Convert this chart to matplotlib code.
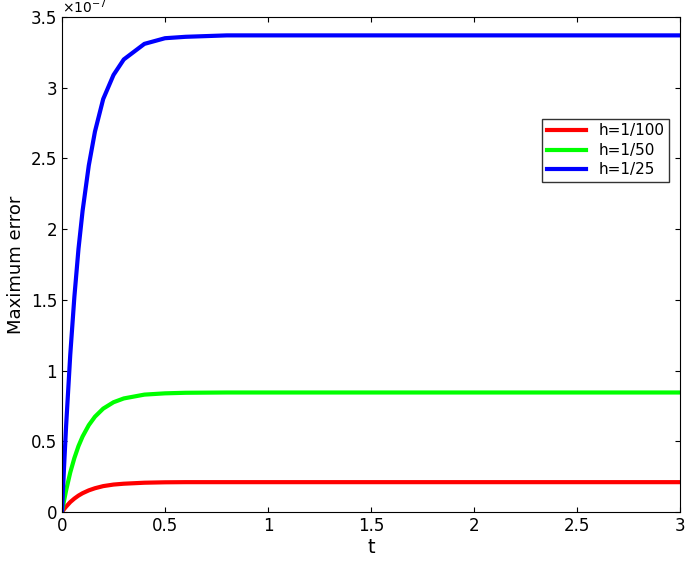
import matplotlib
matplotlib.use("Agg")
import matplotlib.pyplot as plt

t = [0, 0.01, 0.02, 0.04, 0.06, 0.08, 0.1, 0.13, 0.16, 0.2, 0.25, 0.3, 0.4, 0.5, 0.6, 0.8, 1.0, 3.0]
blue = [0, 0.32, 0.61, 1.11, 1.52, 1.86, 2.13, 2.45, 2.69, 2.92, 3.09, 3.20, 3.31, 3.35, 3.36, 3.37, 3.37, 3.37]
green = [0, 0.080, 0.153, 0.279, 0.381, 0.466, 0.534, 0.614, 0.674, 0.731, 0.776, 0.803, 0.830, 0.839, 0.843, 0.845, 0.845, 0.845]
red = [0, 0.020, 0.038, 0.070, 0.095, 0.116, 0.133, 0.153, 0.168, 0.183, 0.194, 0.200, 0.207, 0.210, 0.211, 0.211, 0.211, 0.211]
labels = ["h=1/100", "h=1/50", "h=1/25"]
xticklabels = ["0", "0.5", "1", "1.5", "2", "2.5", "3"]
yticklabels = ["0", "0.5", "1", "1.5", "2", "2.5", "3", "3.5"]

fig = plt.figure(figsize=(6.85, 5.68), dpi=100)
ax = fig.add_axes([62/685, 56/568, 618/685, 495/568])
ax.plot(t, red, color=(1, 0, 0), lw=3, label=labels[0])
ax.plot(t, green, color=(0, 1, 0), lw=3, label=labels[1])
ax.plot(t, blue, color=(0, 0, 1), lw=3, label=labels[2])
ax.set_xlim(0, 3)
ax.set_ylim(0, 3.5)
ax.set_xticks([0, 0.5, 1, 1.5, 2, 2.5, 3])
ax.set_xticklabels(xticklabels)
ax.set_yticks([i*0.5 for i in range(8)])
ax.set_yticklabels(yticklabels)
ax.tick_params(direction="in", top=True, right=True, labelsize=12)
ax.text(0.0, 1.003, r"$\times10^{-7}$", transform=ax.transAxes, fontsize=10, va="bottom", ha="left")
ax.set_xlabel("t", fontsize=14, labelpad=2)
ax.set_ylabel("Maximum error", fontsize=13)
ax.legend(loc="upper right", bbox_to_anchor=(0.995, 0.81), fontsize=11, fancybox=False,
          edgecolor="black", handlelength=2.6, borderpad=0.3, labelspacing=0.3)
fig.savefig("out.png", dpi=100)
